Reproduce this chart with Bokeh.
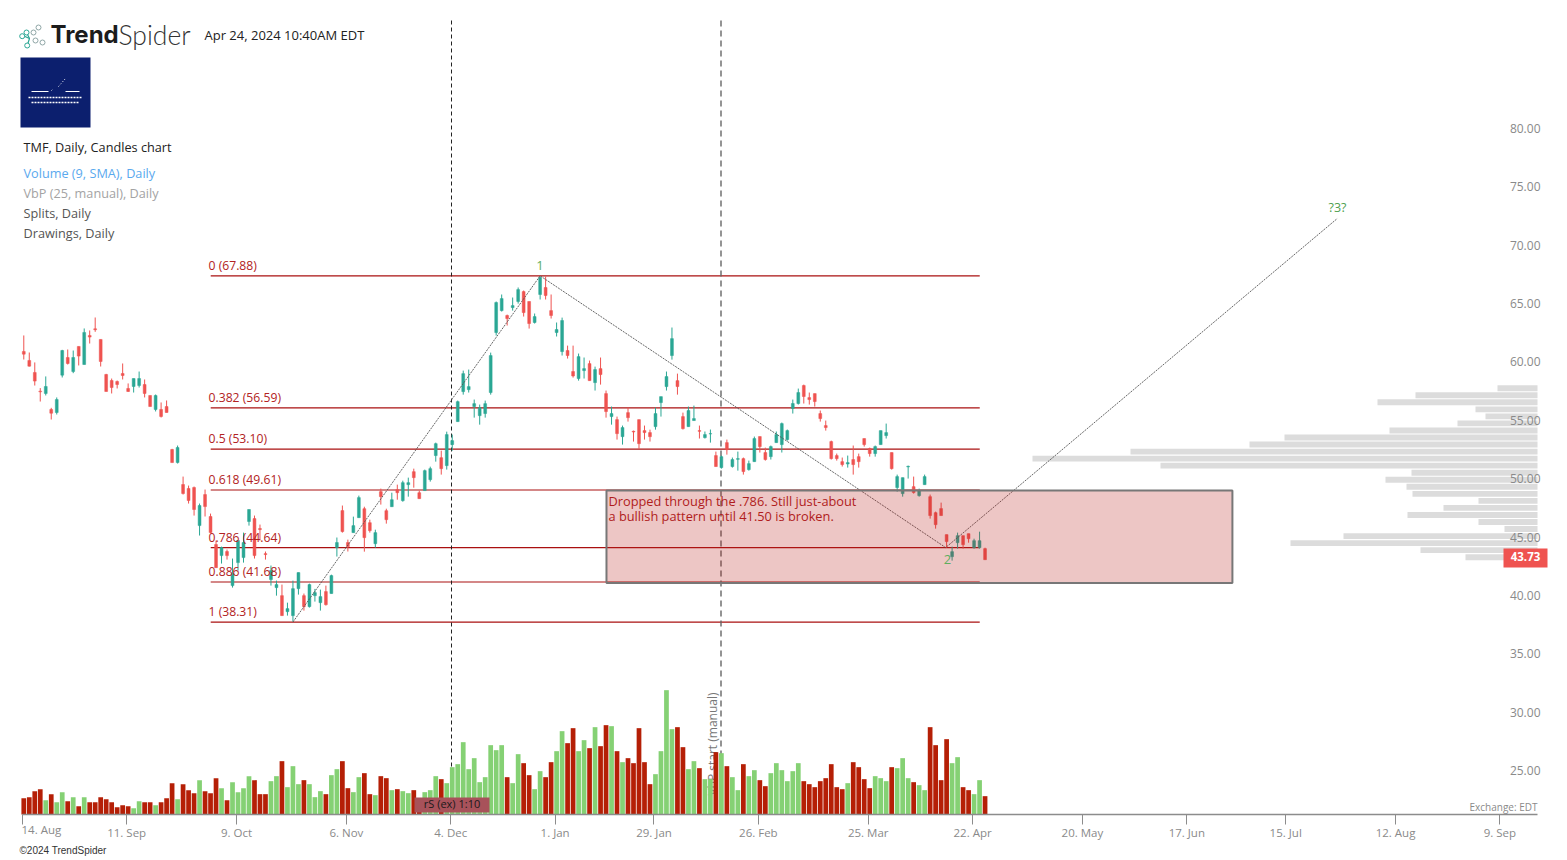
from bokeh.plotting import figure
from bokeh.models import (ColumnDataSource, Range1d, LinearAxis, FixedTicker, Label,
                          PrintfTickFormatter)
from bokeh.core.properties import value
from bokeh.embed import file_html
from bokeh.resources import INLINE
import math

# ---------- data ----------
directions = ("RRRRGRGGRG" "RGRRRRRRRR" "GGRRGRRRGR" "RRGRRRGRGG" "GGRRRGGRGG" "GRGGGRGGRR"
              "GGRRGRRGRG" "GRRGGGRGGG" "GGGGGGGGRG" "GRRGGRRGGR" "RGGRGRRGRG" "RRRRRGGGGR"
              "RGGRGGRGRG" "GRGGRRGGGG" "GGRRRRRRRR" "GRRRRGGGRG" "GGRGGRRRRG" "GRRGGR")
highs = [62.27,60.81,59.96,57.76,58.76,56.07,56.96,61.04,61.07,60.98,
 61.33,62.87,62.70,63.81,61.93,58.98,58.58,58.41,59.87,58.16,
 58.58,59.18,58.50,57.13,57.21,56.53,56.70,52.56,52.84,50.18,
 49.41,49.33,47.87,49.07,47.01,44.70,44.18,43.93,43.16,44.70,
 45.38,47.36,46.84,46.07,43.76,42.56,41.27,40.93,39.38,41.27,
 41.96,40.16,41.01,40.56,40.50,40.84,41.78,44.96,47.70,44.78,
 46.75,48.55,47.60,46.49,45.63,49.15,47.43,48.80,49.49,49.83,
 50.09,50.86,48.98,50.78,51.03,53.09,52.40,54.03,53.78,56.69,
 59.26,59.35,56.78,56.35,56.69,60.80,65.18,65.78,64.06,65.52,
 66.38,66.12,65.18,64.15,67.32,67.32,65.78,63.38,63.80,61.40,
 61.40,60.72,60.38,60.12,59.60,60.38,57.55,56.18,55.32,54.55,
 56.09,54.12,55.06,54.55,54.20,56.09,57.03,59.18,62.95,59.00,
 55.66,56.18,56.26,54.55,54.04,54.21,52.32,51.98,53.35,51.81,
 52.32,51.81,51.55,53.61,53.61,52.66,52.84,54.04,54.81,54.21,
 56.78,57.72,58.06,57.38,57.29,55.84,54.98,53.26,52.15,51.81,
 51.98,52.84,52.15,53.44,52.66,52.84,54.12,54.72,52.24,50.35,
 50.09,51.12,50.18,49.15,50.35,48.64,47.18,47.95,45.21,44.18,
 45.38,45.12,45.29,44.86,45.46,44.09]
body_tops = [60.90,60.13,59.10,57.50,57.90,55.93,56.78,60.98,60.38,60.38,
 61.33,62.53,62.27,62.84,61.93,58.93,58.41,58.33,59.01,57.73,
 58.58,58.58,58.07,57.13,57.13,55.93,56.18,52.50,52.67,49.50,
 49.16,49.24,47.70,48.64,46.76,44.36,44.10,43.76,41.87,44.70,
 44.53,47.36,46.58,45.73,43.58,42.13,40.93,39.98,38.87,40.58,
 41.96,39.98,40.93,40.24,39.90,40.33,41.70,44.53,47.27,44.53,
 45.98,48.38,47.43,46.23,45.38,48.89,47.26,48.20,49.06,49.66,
 49.66,50.60,48.80,50.69,50.86,53.00,51.80,53.78,53.26,56.60,
 59.00,57.89,56.43,56.09,56.43,60.55,65.09,65.43,63.98,64.83,
 66.20,66.03,65.18,63.89,67.23,66.38,64.40,62.78,63.55,60.98,
 59.18,60.46,59.43,59.86,59.35,59.43,57.29,55.58,55.06,54.38,
 55.66,54.06,55.06,54.12,53.95,55.58,57.03,58.75,62.00,58.40,
 55.32,55.84,55.15,54.12,53.78,53.86,51.98,51.89,53.09,51.64,
 51.72,51.72,51.29,53.44,53.61,52.24,52.75,53.78,54.72,54.12,
 56.44,57.38,57.98,56.95,57.29,55.58,54.55,53.18,51.98,51.46,
 51.38,51.64,51.89,53.44,52.58,52.75,54.12,53.95,52.24,50.18,
 50.09,51.06,49.32,48.98,50.18,48.46,47.09,47.44,45.21,43.75,
 45.12,45.12,45.29,44.69,44.69,44.01]
body_bots = [60.67,59.64,58.36,57.44,57.30,55.61,55.67,58.87,59.87,59.18,
 60.50,59.78,62.13,62.76,60.04,57.47,57.81,58.07,58.84,57.47,
 57.90,57.98,57.30,56.18,55.93,55.33,55.67,51.38,51.38,48.73,
 48.13,47.36,45.98,47.61,45.38,42.38,43.41,43.41,40.84,42.81,
 43.24,46.33,43.41,45.64,43.50,41.36,40.67,38.27,38.61,38.27,
 40.58,39.04,39.04,39.98,39.38,39.21,40.16,44.10,45.47,44.18,
 45.38,46.66,44.95,45.55,44.43,48.46,46.49,47.60,48.80,48.12,
 49.49,50.09,48.29,48.98,49.92,51.98,50.86,51.12,52.92,54.89,
 57.46,57.63,56.18,55.40,55.58,57.38,62.52,64.40,63.72,64.66,
 65.18,64.23,63.29,63.38,65.78,65.69,63.98,62.52,60.89,60.55,
 58.80,58.58,59.26,58.40,58.23,58.92,55.75,55.32,53.86,53.60,
 55.23,54.00,53.00,53.95,53.60,54.46,56.52,57.89,60.55,57.89,
 54.29,54.46,54.98,54.06,53.52,53.84,51.04,50.95,52.49,51.04,
 51.66,50.61,50.78,51.46,52.75,51.64,51.89,53.09,52.92,53.35,
 56.01,56.44,57.04,56.78,56.61,55.15,54.38,51.72,51.72,51.21,
 51.26,51.21,51.46,52.92,52.15,52.15,52.92,53.69,50.86,49.24,
 48.72,51.01,48.81,48.55,49.49,46.84,46.06,46.84,44.61,43.32,
 44.52,44.35,44.86,44.09,44.09,43.06]
lows = [60.21,59.61,57.98,56.61,57.13,55.07,55.50,58.67,59.78,59.04,
 59.70,59.78,61.58,62.58,59.61,57.47,57.30,57.73,58.50,57.44,
 57.38,57.81,56.96,56.18,55.76,55.24,55.67,51.38,51.30,48.64,
 47.87,46.84,45.13,46.76,45.33,42.38,42.73,43.07,40.67,42.13,
 42.81,45.98,43.16,44.70,43.07,40.84,39.98,38.27,38.27,37.76,
 40.07,38.70,38.96,39.47,38.70,39.13,40.16,43.33,45.38,43.76,
 45.38,46.66,43.75,45.38,44.09,47.78,46.15,47.60,48.20,48.03,
 48.46,49.23,48.29,48.98,49.75,51.46,50.35,50.78,52.40,54.89,
 57.20,57.38,55.23,54.63,55.23,57.20,62.26,64.32,63.12,64.40,
 65.00,63.89,62.86,63.29,65.35,65.35,63.72,62.18,60.55,60.29,
 58.66,58.40,58.58,58.40,57.55,58.06,55.23,54.63,53.35,52.92,
 54.89,53.18,52.55,53.35,53.18,54.20,55.32,57.55,60.20,57.20,
 54.21,54.46,54.98,53.44,53.44,53.09,51.04,50.86,52.06,50.95,
 50.69,50.35,50.69,51.46,52.24,51.55,51.64,53.09,52.24,53.26,
 55.58,56.35,56.44,56.35,56.18,54.89,54.12,51.64,51.55,51.04,
 50.95,50.35,50.95,52.75,51.89,51.89,52.92,53.44,50.78,48.89,
 48.46,50.01,48.72,48.46,49.49,46.58,45.72,46.84,44.09,42.98,
 44.01,44.01,44.52,44.01,44.01,43.06]
volumes = [49,52,70,76,43,61,37,67,40,52,
 25,52,37,37,52,46,37,22,28,25,
 19,40,37,37,28,37,49,94,46,91,
 73,64,103,70,64,109,79,43,97,67,
 79,115,103,61,61,100,115,160,82,145,
 91,103,91,52,70,61,118,136,160,79,
 67,112,124,61,58,115,109,73,76,70,
 64,73,43,67,73,115,106,94,142,151,
 217,136,169,97,112,208,193,208,112,94,
 181,154,118,76,130,112,157,190,250,214,
 259,190,223,199,262,205,268,265,190,157,
 169,154,259,157,91,121,190,373,256,262,
 202,136,160,139,106,106,187,184,145,112,
 73,151,115,133,103,85,124,154,133,100,
 130,154,100,91,82,100,109,151,82,76,
 94,157,142,106,79,115,109,100,142,139,
 169,109,97,88,73,262,208,103,226,154,
 172,82,73,61,103,55]
tick_positions = [0,19,39,59,78,97,115,134,154,173,193,212,230,250,269]
tick_labels = ["14. Aug","11. Sep","9. Oct","6. Nov","4. Dec","1. Jan","29. Jan","26. Feb",
               "25. Mar","22. Apr","20. May","17. Jun","15. Jul","12. Aug","9. Sep"]
price_ticks = [80,75,70,65,60,55,50,45,40,35,30,25]
vbp_prices = [57.75,57.15,56.55,55.94,55.34,54.74,54.13,53.53,52.93,52.32,51.72,51.12,50.51,
              49.91,49.31,48.70,48.10,47.50,46.89,46.29,45.69,45.08,44.48,43.88,43.27]
vbp_volume = [40,122,160,62,52,80,148,253,288,407,505,377,126,152,131,125,59,94,130,59,33,194,247,117,72]
fib_prices = [67.38,56.06,52.54,49.03,44.10,41.15,37.72]
fib_labels = ["0 (67.88)","0.382 (56.59)","0.5 (53.10)","0.618 (49.61)","0.786 (44.64)","0.886 (41.68)","1 (38.31)"]
fib_start, fib_end = 34.3, 174.3
wave_x = [49.27, 94.27, 168.1, 239.4]
wave_y = [37.72, 67.38, 44.10, 72.29]
zone_x = [106.35, 220.3]
zone_y = [41.06, 48.99]

# ---------- page geometry ----------
W, H = 1567, 860
AXIS_Y = 814
PX_DAY, X0 = 5.493, 21.8
PX_USD = 11.673
def xd(X): return (X - X0) / PX_DAY
def yd(Y): return 80 - (Y - 128) / PX_USD
BAR_SHIFT = 0.27

p = figure(width=W, height=H, output_backend="svg", toolbar_location=None,
           x_range=Range1d(xd(0), xd(W)), y_range=Range1d(yd(H), yd(0)),
           x_axis_type=None, y_axis_type=None,
           min_border_left=0, min_border_right=0, min_border_top=0, min_border_bottom=0)
p.outline_line_color = None
p.grid.visible = False
p.background_fill_color = "white"
p.border_fill_color = "white"
p.extra_y_ranges = {"vol": Range1d(-(H - AXIS_Y) * 3, AXIS_Y * 3)}
p.extra_x_ranges = {"vbp": Range1d(1537, 1537 - W)}

# axes
FONT = "Open Sans"
xax = LinearAxis(ticker=FixedTicker(ticks=tick_positions), fixed_location=yd(AXIS_Y),
                 bounds=(0, xd(1537)),
                 major_label_overrides={t: l for t, l in zip(tick_positions, tick_labels)},
                 axis_line_color="#8c8c8c", axis_line_width=1.5,
                 major_tick_line_color="#8c8c8c", major_tick_line_width=1,
                 major_tick_in=0, major_tick_out=10, minor_tick_line_color=None,
                 major_label_text_color="#8a8a8a", major_label_text_font=FONT,
                 major_label_text_font_size="11.5px", major_label_standoff=0)
xax.major_label_overrides[0] = " "
p.add_layout(xax, "below")
yax = LinearAxis(ticker=FixedTicker(ticks=price_ticks), fixed_location=xd(1546),
                 formatter=PrintfTickFormatter(format="%.2f"),
                 axis_line_color=None, major_tick_line_color=None, minor_tick_line_color=None,
                 major_label_text_color="#8a8a8a", major_label_text_font=FONT,
                 major_label_text_font_size="12px", major_label_standoff=0)
p.add_layout(yax, "left")

def lab(X, Y, text, size="12px", color="#222222", align="left", font=FONT, style="normal"):
    dx = -1 if align == "left" else 0
    p.add_layout(Label(x=X + dx, y=H - Y + 1, x_units="screen", y_units="screen", text=text,
                       text_font=font, text_font_size=size, text_color=color, text_align=align,
                       text_baseline="middle", text_font_style=style))

# logo
p.quad(left=[xd(20)], right=[xd(90)], bottom=[yd(127)], top=[yd(57)], fill_color="#0c1f6e", line_color=None)
p.segment(x0=[xd(31), xd(65)], x1=[xd(48), xd(79)], y0=[yd(91)] * 2, y1=[yd(91)] * 2, line_color="white", line_width=1)
p.segment(x0=[xd(28), xd(31)], x1=[xd(82), xd(78)], y0=[yd(97), yd(102)], y1=[yd(97), yd(102)],
          line_color="white", line_width=1.5, line_dash="2 1")
p.segment(x0=[xd(51), xd(58)], x1=[xd(53), xd(65)], y0=[yd(90), yd(86)], y1=[yd(88), yd(78)],
          line_color="white", line_width=1, line_dash="1 2")
lx = [21.7, 26, 26.7, 33, 38, 35, 42]
ly = [35.7, 32, 45, 32, 27, 40, 42]
p.multi_line(xs=[[xd(26), xd(29), xd(26.7)], [xd(24), xd(29)]],
             ys=[[yd(32), yd(38), yd(45)], [yd(35.7), yd(38)]],
             line_color="#2aa794", line_width=1.2)
p.scatter(x=[xd(v) for v in lx], y=[yd(v) for v in ly], size=5, marker="circle",
          fill_color="white", line_color=["#2aa794", "#2aa794", "#2aa794", "#8fa6a6", "#8fa6a6", "#8fa6a6", "#8fa6a6"], line_width=1)

# fibonacci levels
p.segment(x0=[fib_start] * 7, x1=[fib_end] * 7, y0=fib_prices, y1=fib_prices, line_color="#aa1010", line_width=1.2)

# vertical markers, behind the bars
p.segment(x0=[xd(451)], x1=[xd(451)], y0=[yd(20)], y1=[yd(AXIS_Y)],
          line_color="#222222", line_width=1, line_dash="4 3")
p.segment(x0=[xd(720.5)], x1=[xd(720.5)], y0=[yd(20)], y1=[yd(AXIS_Y)],
          line_color="#666666", line_width=1.4, line_dash="6 4")
p.text(x=[xd(712)], y=[yd(692)], text=["VbP start (manual)"], angle=[math.pi / 2], text_align="right",
       text_baseline="middle", text_font=value(FONT), text_font_size="12px", text_color="#777777")

# volume by price
p.hbar(y=vbp_prices, left=vbp_volume, right=[0] * len(vbp_volume), height=0.5, x_range_name="vbp",
       fill_color="#dcdcdc", line_color=None)

# volume
xs = [i + BAR_SHIFT for i in range(len(highs))]
ups = [d == "G" for d in directions]
p.vbar(x=xs, top=volumes, bottom=0, width=0.86, y_range_name="vol",
       fill_color=["#85d174" if u else "#b51f06" for u in ups], line_color=None)

# candles
cc = ["#2aa794" if u else "#ef5350" for u in ups]
src = ColumnDataSource(dict(x=xs, h=highs, l=lows, t=body_tops, b=body_bots, c=cc))
p.segment(x0="x", x1="x", y0="l", y1="h", line_color="c", line_width=1, source=src)
p.vbar(x="x", top="t", bottom="b", width=0.52, fill_color="c", line_color="c", line_width=0.5, source=src)

# wave drawing
p.line(wave_x, wave_y, line_color="#555555", line_width=0.9, line_dash="2 1")

# zone rectangle
p.quad(left=[zone_x[0]], right=[zone_x[1]], bottom=[zone_y[0]], top=[zone_y[1]],
       fill_color="#b81c18", fill_alpha=0.25, line_color="#777777", line_width=2)

# split tag and price tag
p.quad(left=[xd(414)], right=[xd(489)], bottom=[yd(812)], top=[yd(797)], fill_color="#a8525a", line_color=None)
p.quad(left=[xd(1503)], right=[xd(1547)], bottom=[yd(567)], top=[yd(548)], fill_color="#ef5350", line_color=None)

# texts
lab(51, 35, "Trend", "24px", "#1c1c1c", font="Inter", style="bold")
lab(119, 35, "Spider", "26.5px", "#333333", font="Lato Light")
lab(205, 35, "Apr 24, 2024 10:40AM EDT", "13px", "#222222")
lab(24, 147, "TMF, Daily, Candles chart", "12.7px", "#222222")
lab(24, 173, "Volume (9, SMA), Daily", "12.7px", "#5aa9ee")
lab(24, 193, "VbP (25, manual), Daily", "12.7px", "#a3a3a3")
lab(24, 213, "Splits, Daily", "12.7px", "#555555")
lab(24, 233, "Drawings, Daily", "12.7px", "#555555")
for price, text, yy in zip(fib_prices, fib_labels, [266, 398, 439, 480, 538, 572, 612]):
    lab(209, yy, text, "12.2px", "#b22222")
lab(539.5, 266, "1", "13px", "#5fae5f", align="center")
lab(947, 560, "2", "13px", "#5fae5f", align="center")
lab(1337, 208, "?3?", "12.5px", "#4f9f4f", align="center")
lab(609, 501, "Dropped through the .786. Still just-about", "12.8px", "#b01c1c")
lab(609, 516, "a bullish pattern until 41.50 is broken.", "12.8px", "#b01c1c")
lab(451.5, 804, "rS (ex) 1:10", "11px", "#1a1a1a", align="center")
lab(1525, 557, "43.73", "11.5px", "white", align="center", style="bold")
lab(1537, 807, "Exchange: EDT", "10px", "#8a8a8a", align="right")
lab(20, 850.5, "©2024 TrendSpider", "10px", "#333333", font="Liberation Sans")
lab(22, 829.5, "14. Aug", "11.5px", "#8a8a8a")

assert len(highs) == len(lows) == len(body_tops) == len(body_bots) == len(volumes) == len(directions) == 176

open("out.html", "w").write(file_html(p, INLINE))
